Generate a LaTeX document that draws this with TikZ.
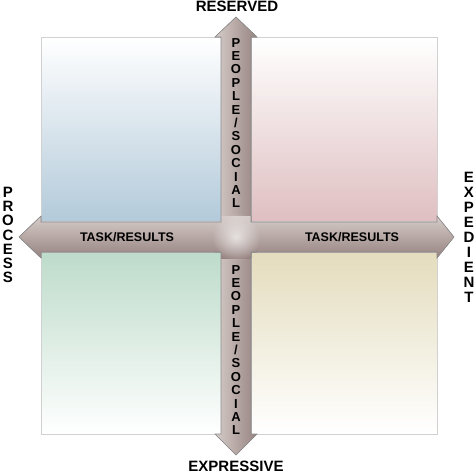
\documentclass[tikz,border=0pt]{standalone}
\usepackage{fontspec}
\setmainfont{Liberation Sans}
\usetikzlibrary{fadings}
\definecolor{qblue}{HTML}{B3CADA}
\definecolor{qpink}{HTML}{DFBFC1}
\definecolor{qgreen}{HTML}{BDDBCA}
\definecolor{qtan}{HTML}{E4DCBD}
\definecolor{arrdark}{HTML}{968380}
\definecolor{arrmid}{HTML}{D6CCC9}
\definecolor{arrlight}{HTML}{E6DFDC}
\tikzfading[name=glow,inner color=transparent!35,outer color=transparent!100]
\tikzset{quad/.style={draw=black!18,line width=0.6pt},
  rim/.style={draw=black!45,line width=0.6pt},
  lbl/.style={inner sep=0pt,font=\fontsize{15}{15}\selectfont\bfseries},
  stack/.style={inner sep=0pt,align=center,anchor=north,font=\fontsize{15}{#1}\selectfont\bfseries},
  shaftlbl/.style={inner sep=0pt,align=center,anchor=north,font=\fontsize{13}{13.4}\selectfont\bfseries},
  tasklbl/.style={inner sep=0pt,font=\fontsize{12.5}{12.5}\selectfont\bfseries}}

\begin{document}
\begin{tikzpicture}[x=1pt,y=-1pt]
\useasboundingbox (0,0) rectangle (474,475);
\fill[white] (0,0) rectangle (474,475);
% quadrants
\draw[quad,top color=white,bottom color=qblue] (41,37) rectangle (221,221);
\draw[quad,top color=white,bottom color=qpink] (251,37) rectangle (437,221);
\draw[quad,top color=qgreen,bottom color=white] (41,252) rectangle (221,434);
\draw[quad,top color=qtan,bottom color=white] (251,252) rectangle (437,434);
% the cross of two double arrows
\def\crosspath{(236,17)--(257,37)--(251,37)--(251,222)--(437,222)--(437,216)--(454,237)--(437,258)--(437,252)--(251,252)--(251,434)--(257,434)--(236,455)--(215,434)--(221,434)--(221,252)--(41,252)--(41,258)--(19,237)--(41,216)--(41,222)--(221,222)--(221,37)--(215,37)--cycle}
\begin{scope}
\clip \crosspath;
\fill[left color=arrmid,middle color=arrlight,right color=arrdark] (215,17) rectangle (257,455);
\fill[top color=arrmid,middle color=arrlight,bottom color=arrdark] (19,216) rectangle (454,258);
\fill[white,path fading=glow] (236,237) circle[radius=24pt];
\end{scope}
\draw[rim] \crosspath;
% labels
\node[lbl,anchor=north] (R) at (237,0.5) {RESERVED};
\node[lbl,anchor=north] (X) at (236,461) {EXPRESSIVE};
\node[stack=14.2] (Pr) at (8,187) {P\\R\\O\\C\\E\\S\\S};
\node[stack=15] (Ex) at (469,172) {E\\X\\P\\E\\D\\I\\E\\N\\T};
\node[shaftlbl] (PU) at (236,38) {P\\E\\O\\P\\L\\E\\/\\S\\O\\C\\I\\A\\L};
\node[shaftlbl] (PD) at (236,265) {P\\E\\O\\P\\L\\E\\/\\S\\O\\C\\I\\A\\L};
\node[tasklbl] (TL) at (127,237) {TASK/RESULTS};
\node[tasklbl] (TR) at (352,237) {TASK/RESULTS};
\end{tikzpicture}
\end{document}
